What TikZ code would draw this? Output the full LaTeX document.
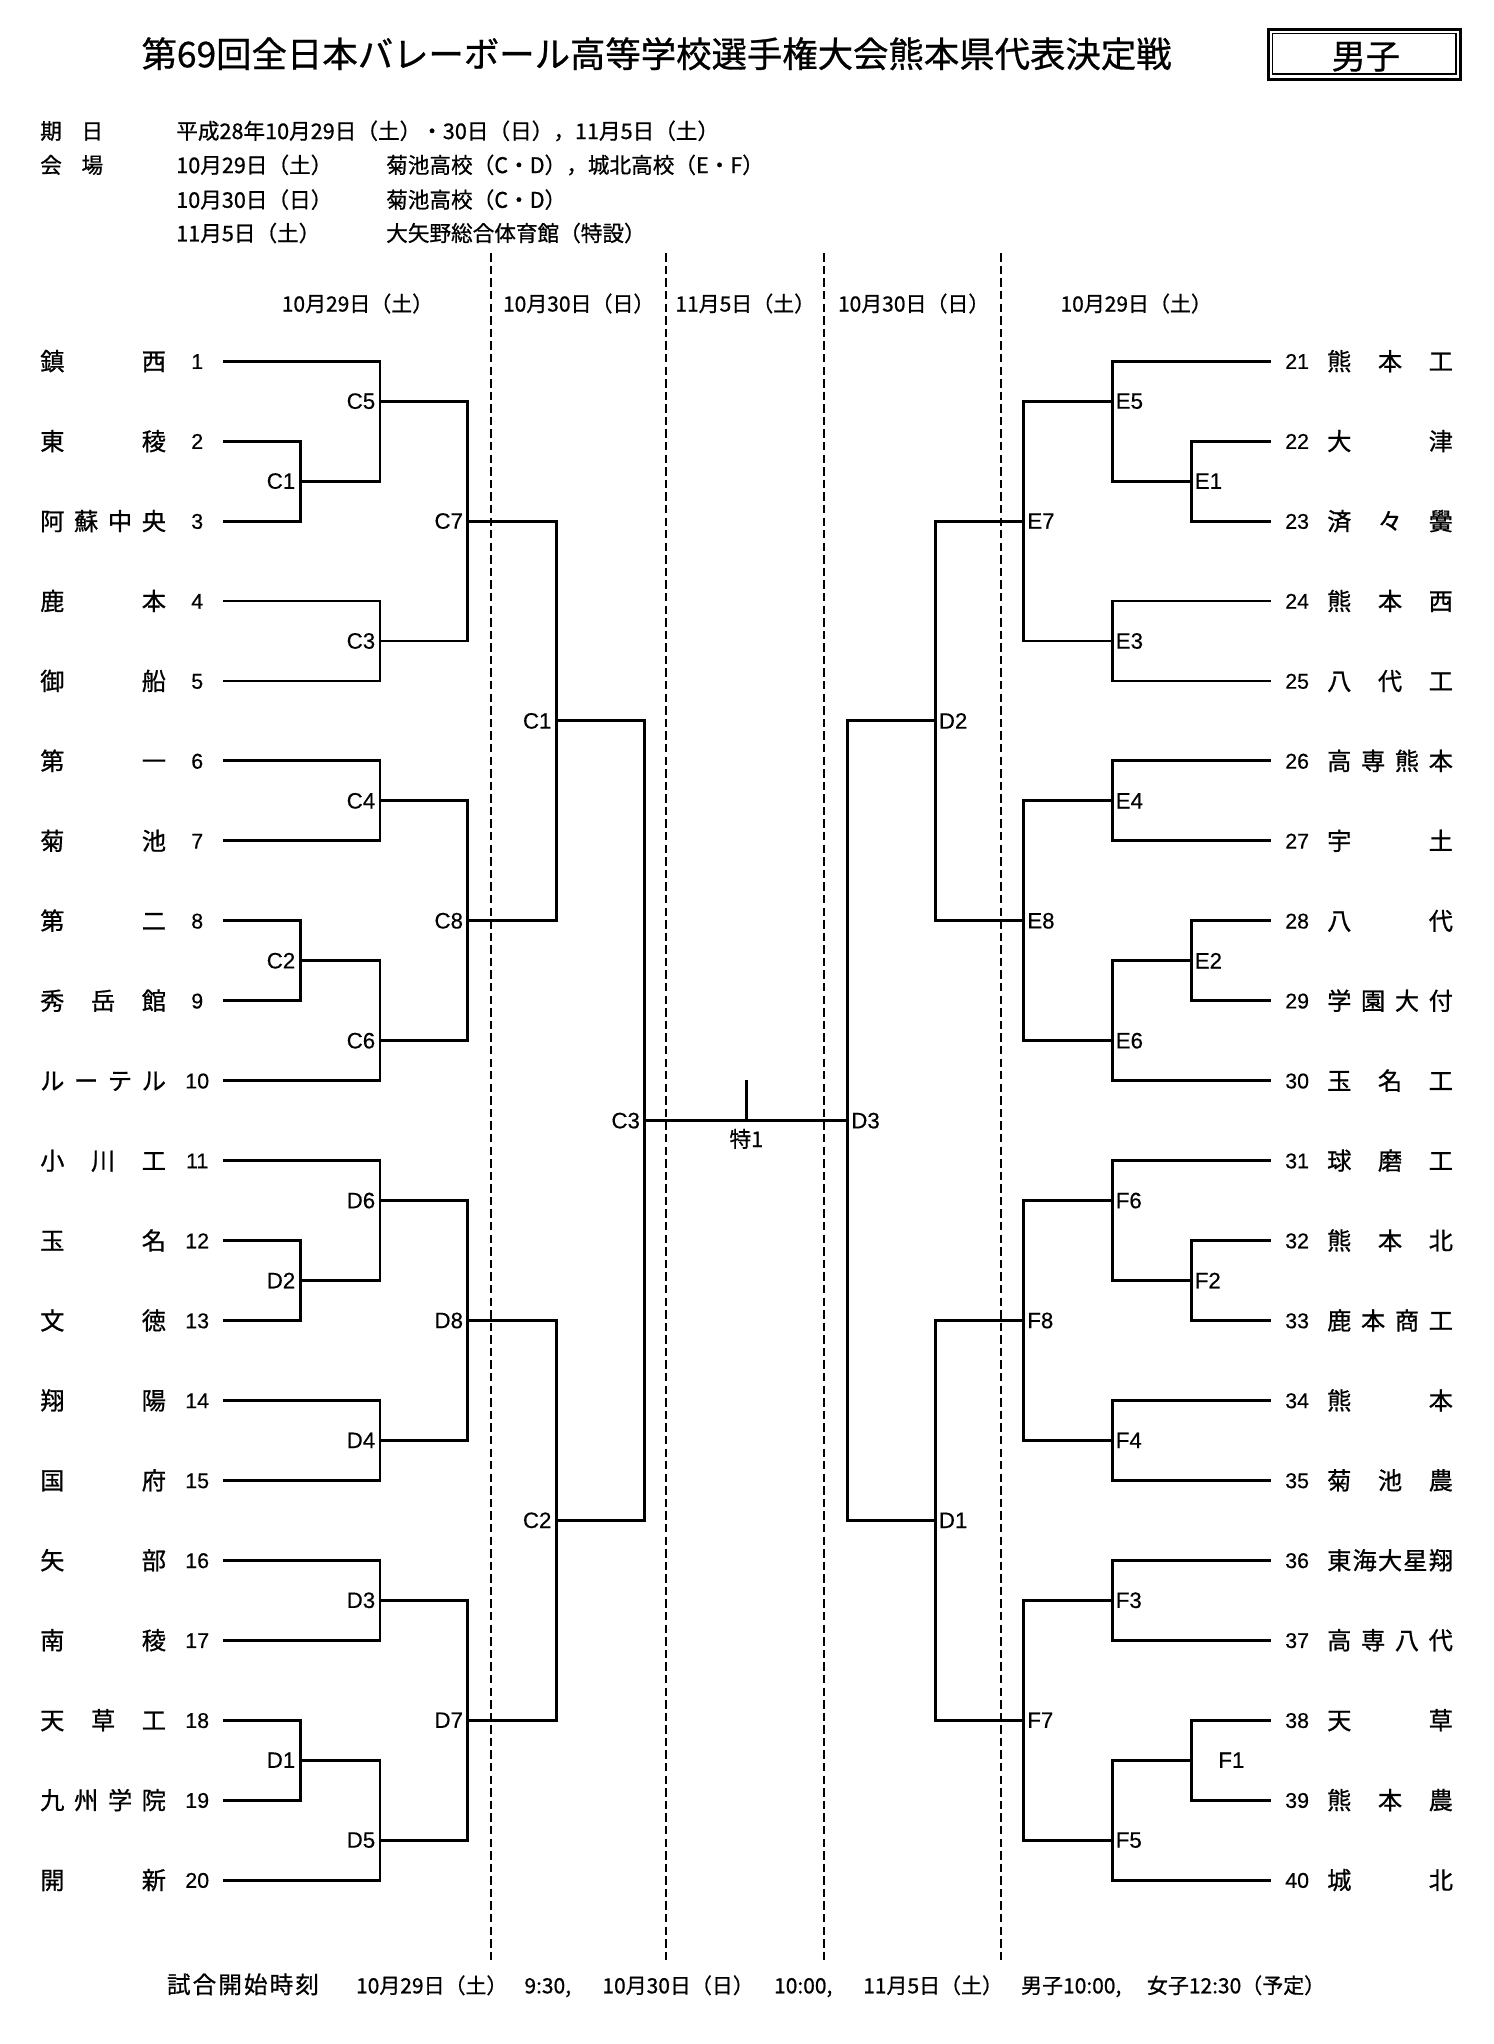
\documentclass[tikz,border=0pt]{standalone}
\usepackage{fontspec}
\setmainfont{Noto Sans CJK JP}[FakeBold=0.8]
\newfontfamily\latf{Liberation Sans}[FakeBold=0.4]
\begin{document}
\begin{tikzpicture}[x=1pt,y=-1pt,
  br/.style={line width=2.2pt, line join=miter},
  dsh/.style={line width=1.6pt, dash pattern=on 6.4pt off 3.2pt},
  tname/.style={inner sep=0pt, font=\fontsize{18.5}{20}\selectfont},
  tnum/.style={inner sep=0pt, font=\latf\fontsize{16.3}{18}\selectfont},
  lab/.style={inner sep=0pt, font=\latf\fontsize{17}{18}\selectfont},
  hdr/.style={inner sep=0pt, font=\fontsize{16}{18}\selectfont},
  info/.style={inner sep=0pt, font=\fontsize{16.5}{18}\selectfont}]
\useasboundingbox (0,0) rectangle (1140,1559.7);

% title and box
\node[inner sep=0pt, anchor=base west, font=\fontsize{27}{30}\selectfont] (title) at (107.8,51.3) {第69回全日本バレーボール高等学校選手権大会熊本県代表決定戦};
\draw[line width=2pt] (968.1,22.6) rectangle (1114.3,60.5);
\draw[line width=1.3pt] (971,25.6) rectangle (1110.9,56.6);
\node[inner sep=0pt, anchor=base, font=\fontsize{26}{28}\selectfont] (boys) at (1042.2,52.5) {男子};

% info lines
\node[info, anchor=base west] (i1) at (30.5,106.1) {\makebox[48pt][s]{期\hfill 日}};
\node[info, anchor=base west] (i2) at (30.5,132.1) {\makebox[48pt][s]{会\hfill 場}};
\node[info, anchor=base west] (i3) at (134.3,106.1) {平成28年10月29日（土）・30日（日），11月5日（土）};
\node[info, anchor=base west] (i4) at (134.3,132.1) {10月29日（土）};
\node[info, anchor=base west] (i5) at (294.5,132.1) {菊池高校（C・D），城北高校（E・F）};
\node[info, anchor=base west] (i6) at (134.3,158.6) {10月30日（日）};
\node[info, anchor=base west] (i7) at (294.5,158.6) {菊池高校（C・D）};
\node[info, anchor=base west] (i8) at (134.3,184.1) {11月5日（土）};
\node[info, anchor=base west] (i9) at (294.5,184.1) {大矢野総合体育館（特設）};

% column headers
\node[hdr, anchor=base] (h1) at (272.8,237.7) {10月29日（土）};
\node[hdr, anchor=base] (h2) at (441.6,237.7) {10月30日（日）};
\node[hdr, anchor=base] (h3) at (568.7,237.7) {11月5日（土）};
\node[hdr, anchor=base] (h4) at (697.2,237.7) {10月30日（日）};
\node[hdr, anchor=base] (h5) at (867,237.7) {10月29日（土）};

% dashed separators
\foreach \x [count=\k] in {374.8,508.4,629,764} {
  \coordinate (dt\k) at (\x,193.3);
  \coordinate (db\k) at (\x,1496.6);
  \draw[dsh] (dt\k) -- (db\k);
}

% left teams
\foreach \i/\nm in {1/{鎮\hfill 西},2/{東\hfill 稜},3/{阿\hfill 蘇\hfill 中\hfill 央},4/{鹿\hfill 本},5/{御\hfill 船},
  6/{第\hfill 一},7/{菊\hfill 池},8/{第\hfill 二},9/{秀\hfill 岳\hfill 館},10/{ル\hfill ー\hfill テ\hfill ル},
  11/{小\hfill 川\hfill 工},12/{玉\hfill 名},13/{文\hfill 徳},14/{翔\hfill 陽},15/{国\hfill 府},
  16/{矢\hfill 部},17/{南\hfill 稜},18/{天\hfill 草\hfill 工},19/{九\hfill 州\hfill 学\hfill 院},20/{開\hfill 新}} {
  \pgfmathsetmacro\yy{275.6+61*(\i-1)}
  \coordinate (tL\i) at (170,\yy);
  \node[tname, anchor=base west] (nL\i) at (30.5,\yy+7) {\makebox[96pt][s]{\nm}};
  \node[tnum, anchor=base] (kL\i) at (150.5,\yy+5.9) {\i};
}
% right teams
\foreach \i/\nm in {21/{熊\hfill 本\hfill 工},22/{大\hfill 津},23/{済\hfill 々\hfill 黌},24/{熊\hfill 本\hfill 西},25/{八\hfill 代\hfill 工},
  26/{高\hfill 専\hfill 熊\hfill 本},27/{宇\hfill 土},28/{八\hfill 代},29/{学\hfill 園\hfill 大\hfill 付},30/{玉\hfill 名\hfill 工},
  31/{球\hfill 磨\hfill 工},32/{熊\hfill 本\hfill 北},33/{鹿\hfill 本\hfill 商\hfill 工},34/{熊\hfill 本},35/{菊\hfill 池\hfill 農},
  36/{東\hfill 海\hfill 大\hfill 星\hfill 翔},37/{高\hfill 専\hfill 八\hfill 代},38/{天\hfill 草},39/{熊\hfill 本\hfill 農},40/{城\hfill 北}} {
  \pgfmathsetmacro\yy{275.6+61*(\i-21)}
  \coordinate (tR\i) at (969.5,\yy);
  \node[tname, anchor=base west] (nR\i) at (1012.5,\yy+7) {\makebox[96pt][s]{\nm}};
  \node[tnum, anchor=base] (kR\i) at (989.8,\yy+5.9) {\i};
}

% match points
\foreach \n/\x/\r in {mC1/229/2.5, mC5/290/1.5, mC3/290/4.5, mC7/357/3, mC4/290/6.5, mC2/229/8.5, mC6/290/9.5, mC8/357/8,
  mCa/424.5/5.5, mD6/290/11.5, mD2/229/12.5, mD4/290/14.5, mD8/357/13, mD3/290/16.5, mD1/229/18.5, mD5/290/19.5,
  mD7/357/18, mCb/424.5/15.5, mCc/492/10.5,
  mE1/909/2.5, mE5/848.7/1.5, mE3/848.7/4.5, mE7/781.2/3, mE4/848.7/6.5, mE2/909/8.5, mE6/848.7/9.5, mE8/781.2/8,
  mDa/713.7/5.5, mF6/848.7/11.5, mF2/909/12.5, mF4/848.7/14.5, mF8/781.2/13, mF3/848.7/16.5, mF1/909/18.5,
  mF5/848.7/19.5, mF7/781.2/18, mDb/713.7/15.5, mDc/646.9/10.5} {
  \pgfmathsetmacro\yy{275.6+61*(\r-1)}
  \coordinate (\n) at (\x,\yy);
}

% bracket lines
\foreach \a/\b in {tL2/mC1, tL3/mC1, tL1/mC5, mC1/mC5, tL4/mC3, tL5/mC3, mC5/mC7, mC3/mC7, tL6/mC4, tL7/mC4,
  tL8/mC2, tL9/mC2, mC2/mC6, tL10/mC6, mC4/mC8, mC6/mC8, mC7/mCa, mC8/mCa, tL11/mD6, mD2/mD6, tL12/mD2, tL13/mD2,
  tL14/mD4, tL15/mD4, mD6/mD8, mD4/mD8, tL16/mD3, tL17/mD3, tL18/mD1, tL19/mD1, mD1/mD5, tL20/mD5, mD3/mD7, mD5/mD7,
  mD8/mCb, mD7/mCb, mCa/mCc, mCb/mCc,
  tR22/mE1, tR23/mE1, tR21/mE5, mE1/mE5, tR24/mE3, tR25/mE3, mE5/mE7, mE3/mE7, tR26/mE4, tR27/mE4, tR28/mE2, tR29/mE2,
  mE2/mE6, tR30/mE6, mE4/mE8, mE6/mE8, mE7/mDa, mE8/mDa, tR31/mF6, mF2/mF6, tR32/mF2, tR33/mF2, tR34/mF4, tR35/mF4,
  mF6/mF8, mF4/mF8, tR36/mF3, tR37/mF3, tR38/mF1, tR39/mF1, mF1/mF5, tR40/mF5, mF3/mF7, mF5/mF7, mF8/mDb, mF7/mDb,
  mDa/mDc, mDb/mDc} {
  \draw[br] (\a) -| (\b);
}
\draw[br] (mCc) -- (mDc);
\coordinate (tk) at (569.5,824);
\draw[br] (tk) -- (tk |- mCc);
\node[inner sep=0pt, font=\fontsize{16.5}{18}\selectfont] (sp1) at (569.5,869) {特1};

% labels
\foreach \n/\t in {mC1/C1, mC5/C5, mC3/C3, mC7/C7, mC4/C4, mC2/C2, mC6/C6, mC8/C8, mCa/C1, mD6/D6, mD2/D2, mD4/D4,
  mD8/D8, mD3/D3, mD1/D1, mD5/D5, mD7/D7, mCb/C2, mCc/C3} {
  \node[lab, anchor=east] (l\n) at ([xshift=-3.5pt]\n) {\t};
}
\foreach \n/\t in {mE1/E1, mE5/E5, mE3/E3, mE7/E7, mE4/E4, mE2/E2, mE6/E6, mE8/E8, mDa/D2, mF6/F6, mF2/F2, mF4/F4,
  mF8/F8, mF3/F3, mF5/F5, mF7/F7, mDb/D1, mDc/D3} {
  \node[lab, anchor=west] (l\n) at ([xshift=2.5pt]\n) {\t};
}
\node[lab, anchor=west] (lmF1) at ([xshift=20.5pt]mF1) {F1};

% bottom line
\node[info, anchor=base west, font=\fontsize{18}{20}\selectfont] (b1) at (127.2,1521) {\makebox[116pt][s]{試\hfill 合\hfill 開\hfill 始\hfill 時\hfill 刻}};
\node[hdr, anchor=base west] (b2) at (271.5,1521) {10月29日（土）};
\node[hdr, anchor=base west] (b3) at (400,1521) {9:30,};
\node[hdr, anchor=base west] (b4) at (459.5,1521) {10月30日（日）};
\node[hdr, anchor=base west] (b5) at (590.5,1521) {10:00,};
\node[hdr, anchor=base west] (b6) at (658.5,1521) {11月5日（土）};
\node[hdr, anchor=base west] (b7) at (779,1521) {男子10:00,};
\node[hdr, anchor=base west] (b8) at (875,1521) {女子12:30（予定）};
\end{tikzpicture}
\end{document}
